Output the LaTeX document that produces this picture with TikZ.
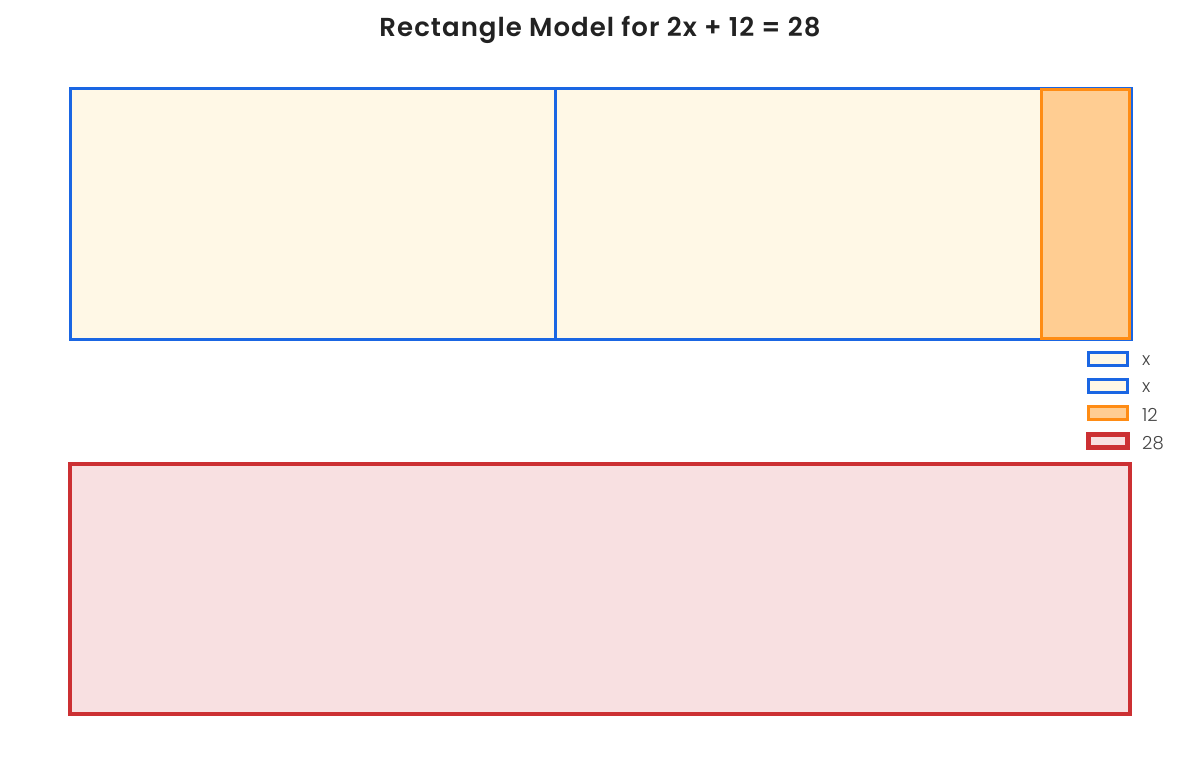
\documentclass[tikz,border=0pt]{standalone}
\usepackage{fontspec}
\setmainfont{Poppins}
\IfFontExistsTF{Poppins SemiBold}{\newfontfamily\titlefont{Poppins SemiBold}[LetterSpace=4]}{\newfontfamily\titlefont{Poppins}[LetterSpace=4]}
\IfFontExistsTF{Poppins Light}{\newfontfamily\legfont{Poppins Light}}{\newfontfamily\legfont{Poppins}}
\definecolor{bluec}{HTML}{1A66E3}
\definecolor{creamc}{HTML}{FFF8E6}
\definecolor{orangec}{HTML}{FF8C14}
\definecolor{orangef}{HTML}{FFCD92}
\definecolor{redc}{HTML}{CC3033}
\definecolor{redf}{HTML}{F8E0E1}
\definecolor{titlec}{HTML}{222222}
\begin{document}
\begin{tikzpicture}[x=1pt,y=-1pt,
  box/.style={rectangle,inner sep=0pt,outer sep=0pt,anchor=north west},
  xbox/.style={box,draw=bluec,fill=creamc,line width=3pt},
  tbox/.style={box,draw=orangec,fill=orangef,line width=3pt},
  rbox/.style={box,draw=redc,fill=redf,line width=4.5pt},
  legbox/.style={rectangle,inner sep=0pt,outer sep=0pt,minimum width=39pt,minimum height=13pt,line width=2.5pt},
  legtext/.style={anchor=west,inner sep=0pt,font=\legfont\fontsize{18}{18}\selectfont,text=titlec!85}]
\useasboundingbox (0,0) rectangle (1200,763);
\node[anchor=center,font=\titlefont\fontsize{26}{26}\selectfont,text=titlec] (title) at (600,29.5) {Rectangle Model for 2x + 12 = 28};
% top model
\node[xbox,minimum width=1061pt,minimum height=251pt] (whole) at (70,88) {};
\node[xbox,minimum width=485pt,minimum height=251pt] (x1) at (70,88) {};
\node[xbox,minimum width=486pt,minimum height=251pt] (x2) at (555,88) {};
\node[tbox,minimum width=88pt,minimum height=249pt] (twelve) at (1041.5,89) {};
% bottom model
\node[rbox,minimum width=1060pt,minimum height=250pt] (total) at (70,464) {};
% legend
\node[legbox,draw=bluec,fill=creamc] (l1) at (1108,359) {};
\node[legbox,draw=bluec,fill=creamc] (l2) at (1108,386) {};
\node[legbox,draw=orangec,fill=orangef] (l3) at (1108,413) {};
\node[legbox,draw=redc,fill=redf,line width=4.5pt] (l4) at (1108,441) {};
\node[legtext] (t1) at (1142,361) {x};
\node[legtext] (t2) at (1142,388) {x};
\node[legtext] (t3) at (1142,415) {12};
\node[legtext] (t4) at (1142,443) {28};
\end{tikzpicture}
\end{document}
